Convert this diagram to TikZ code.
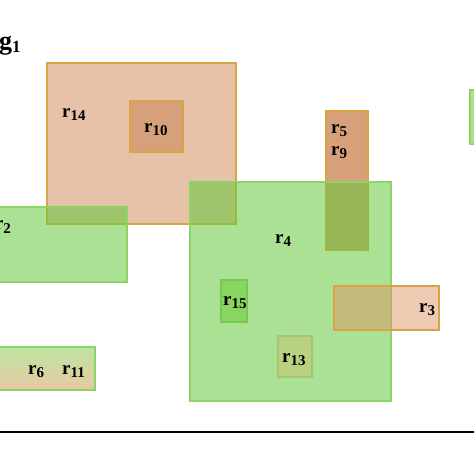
\documentclass[tikz,border=0pt]{standalone}
\usepackage{fontspec}
\setmainfont{Liberation Serif}

\definecolor{fondpeche}{RGB}{232,194,168}
\definecolor{fondbrun}{RGB}{214,161,122}
\definecolor{bordorange}{RGB}{216,165,68}
\definecolor{basevert}{RGB}{100,200,60}
\definecolor{bordvert}{RGB}{140,212,100}
\definecolor{fondvertfonce}{RGB}{136,214,96}
\definecolor{bordvertfonce}{RGB}{118,200,82}
\definecolor{fondolive}{RGB}{184,210,130}
\definecolor{bordolive}{RGB}{168,196,112}
\definecolor{baseorange}{RGB}{220,150,100}
\definecolor{hautdegrade}{RGB}{190,228,160}
\definecolor{basdegrade}{RGB}{232,200,165}

\newcommand{\reg}[1]{r\raisebox{-3.5pt}{\fontsize{15}{15}\selectfont #1}}

\begin{document}
\begin{tikzpicture}[x=1pt,y=-1pt,
  cadre/.style={line width=1.8pt},
  boitepeche/.style={cadre, draw=bordorange, fill=fondpeche},
  boitebrune/.style={cadre, draw=bordorange, fill=fondbrun},
  boiteverte/.style={cadre, draw=bordvert, fill=basevert, fill opacity=0.55},
  boiteorange/.style={cadre, draw=bordorange, fill=baseorange, fill opacity=0.5},
  etiq/.style={inner sep=0pt, anchor=base west, font=\fontsize{19}{19}\selectfont\bfseries}]

\useasboundingbox (0,0) rectangle (474,474);
\clip (0,0) rectangle (474,474);

% Titre
\node[inner sep=0pt, anchor=base west, font=\fontsize{26}{26}\selectfont\bfseries] (g1) at (-1,49) {g\raisebox{-3pt}{\fontsize{17}{17}\selectfont 1}};

% Regions orangees
\draw[boitepeche] (47,63) rectangle (236,224);
\draw[boitebrune] (130,101) rectangle (183,152);
\draw[boitebrune] (326,111) rectangle (368,250);

% Regions vertes
\draw[boiteverte] (-20,207) rectangle (127,282);
\draw[boiteverte] (190,182) rectangle (391,401);
\draw[boiteverte] (470,90) rectangle (490,144);
\draw[cadre, draw=bordvertfonce, fill=fondvertfonce] (221,280) rectangle (247,322);
\draw[cadre, draw=bordolive, fill=fondolive] (278,336) rectangle (312,377);

% Region r3 par-dessus r4
\draw[boiteorange] (334,286) rectangle (439,330);

% Region en degrade
\draw[cadre, draw=bordvert, top color=hautdegrade, bottom color=basdegrade] (-20,347) rectangle (95,390);

% Etiquettes
\node[etiq] (r14) at (62,117) {\reg{14}};
\node[etiq] (r10) at (144,132) {\reg{10}};
\node[etiq] (r5) at (331,133) {\reg{5}};
\node[etiq] (r9) at (331,155) {\reg{9}};
\node[etiq, anchor=base east] (r2) at (11,229.5) {\reg{2}};
\node[etiq] (r4) at (275,243) {\reg{4}};
\node[etiq] (r15) at (223,305) {\reg{15}};
\node[etiq] (r13) at (282,362) {\reg{13}};
\node[etiq] (r3) at (419,312) {\reg{3}};
\node[etiq] (r6) at (28,374) {\reg{6}};
\node[etiq] (r11) at (62,374) {\reg{11}};

% Ligne de base
\draw[line width=1.5pt] (0,432) -- (474,432);

\end{tikzpicture}
\end{document}
